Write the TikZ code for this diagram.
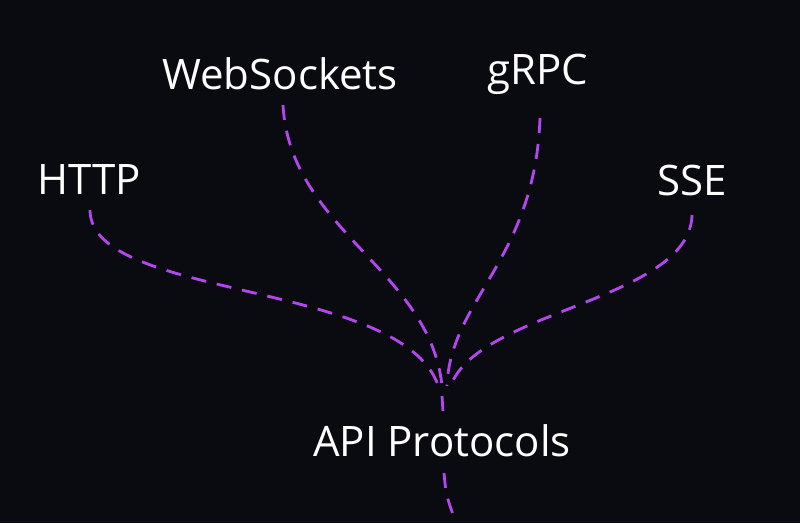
\documentclass[tikz,border=0pt]{standalone}
\usepackage{fontspec}
\setmainfont{Open Sans}
\begin{document}
\begin{tikzpicture}[x=1pt,y=-1pt,
  lbl/.style={text=white,font=\fontsize{42}{46}\selectfont,inner sep=0pt},
  link/.style={color={rgb,255:red,180;green,70;blue,240},line width=2.8pt,dash pattern=on 15pt off 11pt}]
\fill[fill={rgb,255:red,10;green,11;blue,16}] (0,0) rectangle (800,523);
\useasboundingbox (0,0) rectangle (800,523);
\node[lbl] (http) at (89,180) {HTTP};
\node[lbl] (ws) at (280,74) {WebSockets};
\node[lbl] (grpc) at (538,74) {gRPC};
\node[lbl] (sse) at (692,180) {SSE};
\node[lbl] (api) at (442,441) {API Protocols};
\coordinate (j1) at (438,385);
\coordinate (j2) at (442,386);
\coordinate (j3) at (447,386);
\coordinate (j4) at (451,385);
\coordinate (b) at (456,523);
\draw[link] (90,210) .. controls (90,300) and (400,280) .. (j1);
\draw[link] (283,105) .. controls (290,230) and (430,270) .. (j2);
\draw[link] (540,118) .. controls (535,260) and (450,300) .. (j3);
\draw[link] (692,215) .. controls (690,300) and (480,310) .. (j4);
\draw[link] (442,396) -- (443,412);
\draw[link] (444,473) .. controls (446,495) .. (b);
\end{tikzpicture}
\end{document}
